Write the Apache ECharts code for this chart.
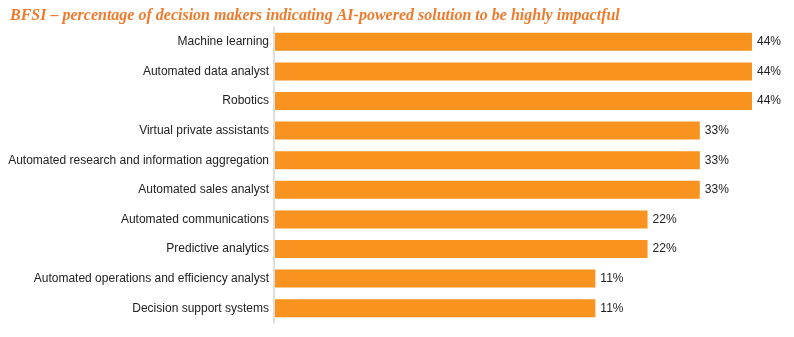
<!DOCTYPE html>
<html>
<head>
<meta charset="utf-8">
<script src="https://cdn.jsdelivr.net/npm/echarts@6/dist/echarts.min.js"></script>
<style>
  html, body { margin: 0; padding: 0; background: #fff; }
  #chart { width: 794px; height: 337px; }
</style>
</head>
<body>
<div id="chart"></div>
<script>
// categories listed top to bottom
const categories = [
  'Machine learning',
  'Automated data analyst',
  'Robotics',
  'Virtual private assistants',
  'Automated research and information aggregation',
  'Automated sales analyst',
  'Automated communications',
  'Predictive analytics',
  'Automated operations and efficiency analyst',
  'Decision support systems',
]
const values = [44, 44, 44, 33, 33, 33, 22, 22, 11, 11]

// the original bars grow from the left axis, which is not at zero
const X_MIN = -56.7
const X_MAX = 44

const chart = echarts.init(document.getElementById('chart'), null, { renderer: 'canvas' })
chart.setOption({
  animation: false,
  title: {
    text: 'BFSI – percentage of decision makers indicating AI-powered solution to be highly impactful',
    left: 5, top: 3,
    textStyle: {
      fontFamily: 'Liberation Serif', fontStyle: 'italic', fontWeight: 'bold',
      fontSize: 16, color: '#F07A2C',
    },
  },
  grid: { left: 274, right: 42, top: 27, bottom: 14 },
  xAxis: {
    type: 'value', min: X_MIN, max: X_MAX,
    show: false,
  },
  yAxis: {
    type: 'category',
    inverse: true,
    data: categories,
    axisLine: { show: true, onZero: false, lineStyle: { color: '#d4d4d4', width: 1.5 } },
    axisTick: { show: false },
    axisLabel: {
      margin: 5, fontFamily: 'Liberation Sans', fontSize: 12, color: '#222',
    },
  },
  series: [{
    type: 'custom',
    data: values.map((v, i) => [v, i]),
    encode: { x: 0, y: 1 },
    renderItem: (params, api) => {
      const v = api.value(0)
      const start = api.coord([X_MIN, api.value(1)])
      const end = api.coord([v, api.value(1)])
      const h = 18
      return {
        type: 'group',
        children: [
          {
            type: 'rect',
            shape: { x: start[0] + 1, y: end[1] - h / 2, width: end[0] - start[0] - 1, height: h },
            style: { fill: '#F7931E' },
          },
          {
            type: 'text',
            x: end[0] + 5, y: end[1],
            style: {
              text: v + '%', fontFamily: 'Liberation Sans', fontSize: 12, fill: '#222',
              verticalAlign: 'middle',
            },
          },
        ],
      }
    },
  }],
})
</script>
</body>
</html>
